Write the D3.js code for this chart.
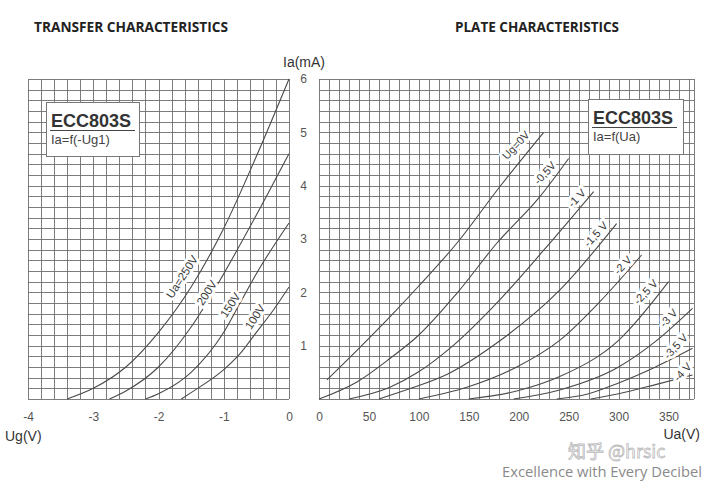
<!DOCTYPE html>
<html>
<head>
<meta charset="utf-8">
<script src="https://cdn.jsdelivr.net/npm/d3@7"></script>
<style>
  body { margin: 0; background: #fff; }
  svg { display: block; }
</style>
</head>
<body>
<script>
// ---- data ----
const ugTicks = [-4, -3, -2, -1, 0];
const iaTicks = [1, 2, 3, 4, 5, 6];
const uaTicks = [0, 50, 100, 150, 200, 250, 300, 350];

// transfer curves: [Ug (V), Ia (mA)]
const ua250 = [[-3.4, 0], [-3, 0.2], [-2.5, 0.6], [-2, 1.25], [-1.5, 2.1], [-1, 3.2], [-0.5, 4.55], [0, 6.0]];
const ua200 = [[-2.75, 0], [-2.5, 0.15], [-2, 0.6], [-1.5, 1.35], [-1, 2.35], [-0.5, 3.45], [0, 4.6]];
const ua150 = [[-2.2, 0], [-2, 0.1], [-1.5, 0.5], [-1, 1.25], [-0.75, 1.8], [-0.5, 2.35], [0, 3.3]];
const ua100 = [[-1.65, 0], [-1.5, 0.12], [-1, 0.55], [-0.75, 0.85], [-0.5, 1.25], [-0.25, 1.65], [0, 2.1]];
const transferNames = ["Ua=250V", "200V", "150V", "100V"];
const transferLabelAt = [[-1.64, 2.29], [-1.26, 1.99], [-0.9, 1.76], [-0.52, 1.54]];

// plate curves: [Ua (V), Ia (mA)]
const ug0 = [[8, 0.36], [40, 0.95], [71, 1.54], [99, 2.1], [138, 2.92], [181, 3.98], [225, 5.0]];
const ug05 = [[0, 0], [38, 0.32], [71, 0.76], [100, 1.2], [138, 1.98], [178, 2.92], [221, 3.79], [250, 4.51]];
const ug1 = [[30, 0], [71, 0.22], [99, 0.5], [131, 0.95], [181, 1.86], [225, 2.79], [275, 3.89]];
const ug15 = [[60, 0], [92, 0.2], [129, 0.47], [178, 1.05], [241, 2.04], [298, 3.29]];
const ug2 = [[100, 0], [148, 0.22], [198, 0.6], [241, 1.1], [281, 1.82], [323, 2.7]];
const ug25 = [[150, 0], [198, 0.15], [241, 0.42], [300, 1.1], [350, 2.2]];
const ug3 = [[195, 0], [241, 0.17], [300, 0.6], [337, 1.08], [374, 1.7]];
const ug35 = [[238, 0], [270, 0.1], [300, 0.3], [337, 0.6], [374, 0.95]];
const ug4 = [[272, 0], [300, 0.1], [337, 0.27], [374, 0.45]];
const plateNames = ["Ug=0V", "-0,5V", "-1 V", "-1,5 V", "-2 V", "-2,5 V", "-3 V", "-3,5 V", "-4 V"];
const plateLabelAt = [[197, 4.76], [226, 4.24], [258, 3.77], [277, 3.09], [304, 2.51], [327, 2.01], [350, 1.52], [357, 0.99], [364, 0.51]];

//-----------------
const w = 720;
const h = 495;
const gridColor = "#6f6f6f";
const curveColor = "#4a4a4a";
const textColor = "#555";
const sans = "Liberation Sans, Arial, sans-serif";

const svg = d3.select("body").append("svg").attr("width", w).attr("height", h);

const yScale = d3.scaleLinear().domain([0, 6]).range([399, 79]);
const xLeft = d3.scaleLinear().domain([-4, 0]).range([28, 289]);
const xRight = d3.scaleLinear().domain([0, 375]).range([319, 693.5]);

function drawGrid(x, xStep) {
  const g = svg.append("g").attr("stroke", gridColor).attr("stroke-width", 0.9).attr("shape-rendering", "crispEdges");
  const [x0, x1] = x.domain();
  const xs = d3.range(x0, x1 + 1e-6, xStep);
  if (Math.abs(xs[xs.length - 1] - x1) > 1e-6) xs.push(x1);
  g.selectAll(".v").data(xs).enter().append("line")
    .attr("x1", (d) => Math.round(x(d)) + 0.5).attr("x2", (d) => Math.round(x(d)) + 0.5)
    .attr("y1", yScale(6)).attr("y2", yScale(0));
  g.selectAll(".h").data(d3.range(0, 6.0001, 0.2)).enter().append("line")
    .attr("x1", x.range()[0]).attr("x2", x.range()[1])
    .attr("y1", (d) => Math.round(yScale(d)) + 0.5).attr("y2", (d) => Math.round(yScale(d)) + 0.5);
}
drawGrid(xLeft, 0.2);
drawGrid(xRight, 10);

// curves
function drawCurves(x, series) {
  const line = d3.line().x((d) => x(d[0])).y((d) => yScale(d[1])).curve(d3.curveMonotoneX);
  svg.append("g").selectAll("path").data(series).enter().append("path")
    .attr("d", line).attr("fill", "none").attr("stroke", curveColor).attr("stroke-width", 1.1);
}
drawCurves(xLeft, [ua250, ua200, ua150, ua100]);
drawCurves(xRight, [ug0, ug05, ug1, ug15, ug2, ug25, ug3, ug35, ug4]);

// curve labels with white halo
function drawLabels(x, names, at, angle, size) {
  svg.append("g").selectAll("text").data(names).enter().append("text")
    .attr("transform", (d, i) => "translate(" + x(at[i][0]) + "," + yScale(at[i][1]) + ") rotate(" + angle + ")")
    .attr("text-anchor", "middle").attr("dominant-baseline", "central")
    .attr("font-family", sans).attr("font-size", size)
    .attr("fill", "#3a3a3a").attr("stroke", "#fff").attr("stroke-width", 6)
    .attr("paint-order", "stroke").attr("stroke-linejoin", "round")
    .text((d) => d);
}
drawLabels(xLeft, transferNames, transferLabelAt, -57, 11.5);
drawLabels(xRight, plateNames, plateLabelAt, -47, 11);

// axes (tick labels only)
const xAxisL = d3.axisBottom(xLeft).tickValues(ugTicks).tickSize(0).tickPadding(8)
  .tickFormat((d) => String(d));
const xAxisR = d3.axisBottom(xRight).tickValues(uaTicks).tickSize(0).tickPadding(8);
const yAxis = d3.axisLeft(yScale).tickValues(iaTicks).tickSize(0).tickPadding(0)
  .tickFormat((d) => String(d));

const axL = svg.append("g").attr("transform", "translate(0,404)").call(xAxisL);
const axR = svg.append("g").attr("transform", "translate(0,404)").call(xAxisR);
const axY = svg.append("g").attr("transform", "translate(307,0)").call(yAxis);
axY.selectAll("text").attr("text-anchor", "end");
[axL, axR, axY].forEach((g) => {
  g.select(".domain").remove();
  g.selectAll("text").attr("font-family", sans).attr("font-size", 12).attr("fill", textColor);
});

// axis titles
function label(x, y, txt, anchor) {
  svg.append("text").attr("x", x).attr("y", y).attr("text-anchor", anchor)
    .attr("font-family", sans).attr("font-size", 14).attr("fill", "#333").text(txt);
}
label(304, 67, "Ia(mA)", "middle");
label(5, 441, "Ug(V)", "start");
label(700, 439, "Ua(V)", "end");

// panel titles
function title(x, txt, len) {
  svg.append("text").attr("x", x).attr("y", 32)
    .attr("font-family", "Open Sans, sans-serif").attr("font-weight", 700).attr("font-size", 14)
    .attr("fill", "#222").attr("textLength", len).attr("lengthAdjust", "spacingAndGlyphs").text(txt);
}
title(34, "TRANSFER CHARACTERISTICS", 194);
title(455, "PLATE CHARACTERISTICS", 164);

// info boxes
function infoBox(bx, by, bw, bh, sub) {
  svg.append("rect").attr("x", bx + 0.5).attr("y", by + 0.5).attr("width", bw).attr("height", bh)
    .attr("fill", "#fff").attr("stroke", "#777").attr("stroke-width", 1);
  svg.append("text").attr("x", bx + 5).attr("y", by + 25)
    .attr("font-family", sans).attr("font-weight", 700).attr("font-size", 18).attr("fill", "#333").text("ECC803S");
  svg.append("line").attr("x1", bx + 4).attr("x2", bx + 89).attr("y1", by + 28.5).attr("y2", by + 28.5)
    .attr("stroke", "#444").attr("stroke-width", 1.2);
  svg.append("text").attr("x", bx + 5).attr("y", by + 42)
    .attr("font-family", sans).attr("font-size", 13).attr("fill", "#444").text(sub);
}
infoBox(46, 102, 93, 54, "Ia=f(-Ug1)");
infoBox(588, 99, 95, 55, "Ia=f(Ua)");

// footer
svg.append("text").attr("x", 502).attr("y", 477)
  .attr("font-family", "Open Sans, sans-serif").attr("font-size", 15).attr("fill", "#8a8a8a")
  .attr("textLength", 200).attr("lengthAdjust", "spacingAndGlyphs").text("Excellence with Every Decibel");
svg.append("text").attr("x", 568).attr("y", 458)
  .attr("font-family", "Noto Sans CJK SC, sans-serif").attr("font-size", 18)
  .attr("fill", "#fff").attr("fill-opacity", 0.55).attr("stroke", "#999").attr("stroke-width", 0.8).attr("stroke-opacity", 0.7)
  .text("知乎 @hrsic");
</script>
</body>
</html>
